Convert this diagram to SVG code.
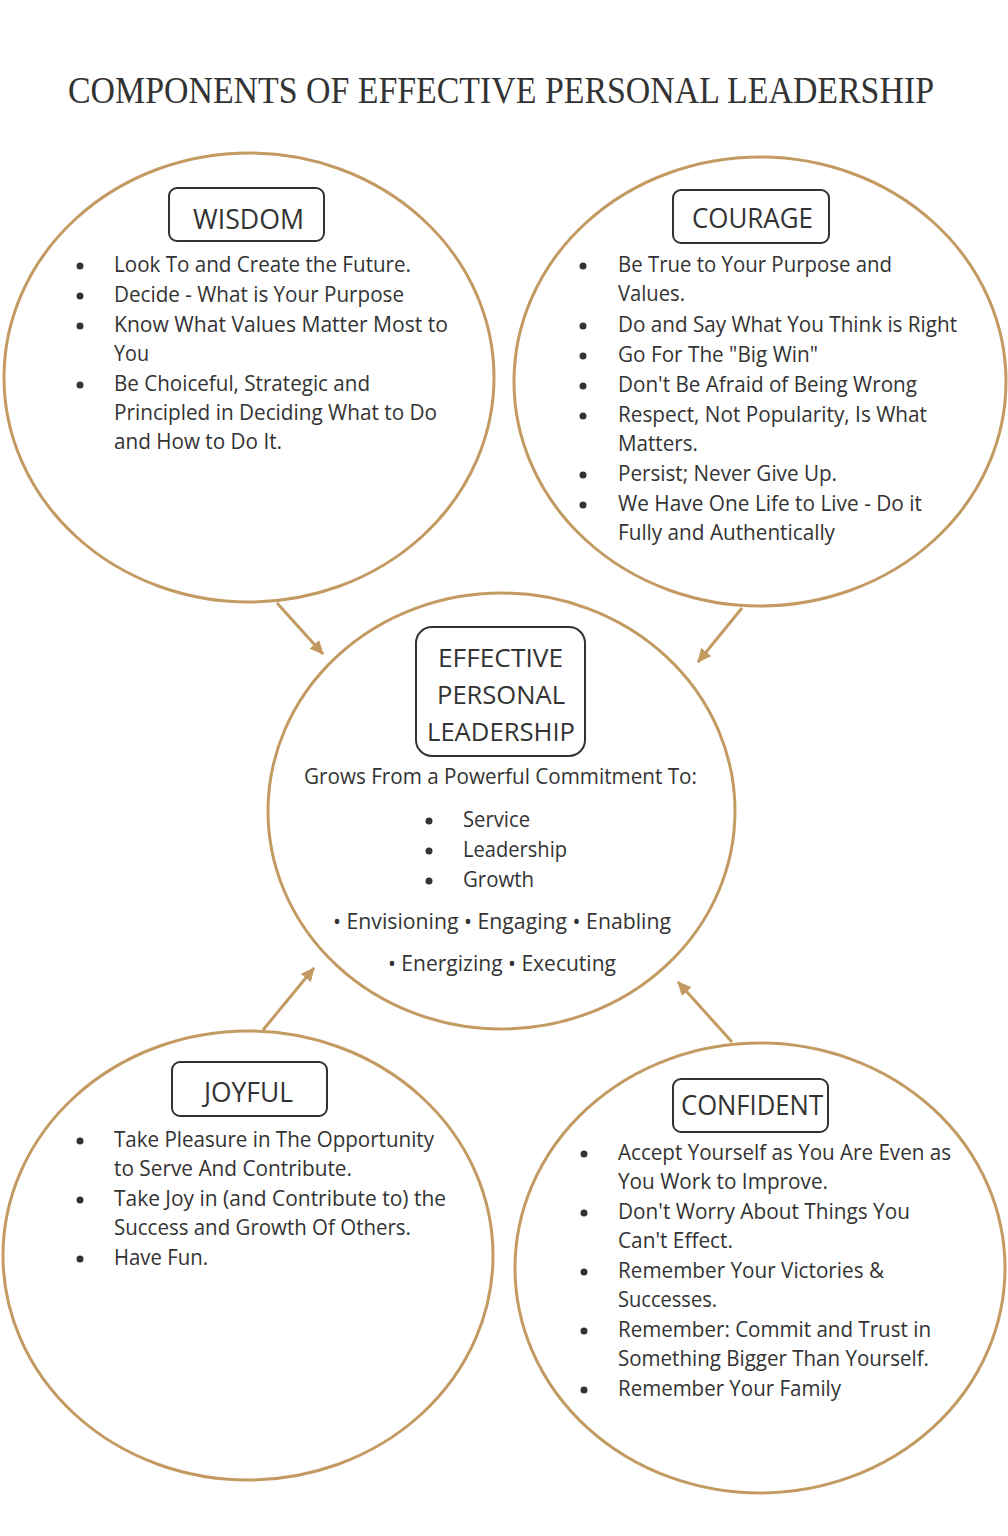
<svg xmlns="http://www.w3.org/2000/svg" width="1008" height="1536" viewBox="0 0 1008 1536">
<defs>
<style>
.bg{fill:#ffffff}
.circ{fill:none;stroke:#C39A62;stroke-width:3}
.box{fill:#ffffff;stroke:#333333;stroke-width:2}
.t{font-family:"Open Sans","Noto Sans","DejaVu Sans",sans-serif;font-size:21px;fill:#333333}
.h{font-family:"Open Sans","Noto Sans","DejaVu Sans",sans-serif;font-size:27px;fill:#333333}
.hc{font-family:"Open Sans","Noto Sans","DejaVu Sans",sans-serif;font-size:25px;fill:#333333}
.title{font-family:"Liberation Serif","Times New Roman",serif;font-size:34px;fill:#333333}
.b{fill:#333333}
.conn{stroke:#C39A62;stroke-width:3;fill:none}
</style>
<marker id="arr" markerUnits="userSpaceOnUse" markerWidth="16" markerHeight="14" refX="13" refY="6.5" orient="auto">
<path d="M0,0 L14,6.5 L0,13 z" fill="#C39A62"/>
</marker>
</defs>
<rect class="bg" x="0" y="0" width="1008" height="1536"/>
<text class="title" x="0" y="0" transform="translate(68,103) scale(1,1.09)" textLength="866" lengthAdjust="spacingAndGlyphs">COMPONENTS OF EFFECTIVE PERSONAL LEADERSHIP</text>

<g id="connectors">
<line class="conn" x1="277" y1="603" x2="323" y2="654" marker-end="url(#arr)"/>
<line class="conn" x1="742" y1="608" x2="698" y2="662" marker-end="url(#arr)"/>
<line class="conn" x1="263" y1="1030" x2="314" y2="968" marker-end="url(#arr)"/>
<line class="conn" x1="732" y1="1042" x2="678" y2="982" marker-end="url(#arr)"/>
</g>

<g id="wisdom">
<ellipse class="circ" cx="249" cy="377.5" rx="245" ry="224.5"/>
<rect class="box" x="169" y="188" width="155" height="53" rx="8"/>
<text class="h" x="193" y="229" textLength="111" lengthAdjust="spacingAndGlyphs">WISDOM</text>
<circle class="b" cx="80" cy="266" r="3.5"/>
<circle class="b" cx="80" cy="296" r="3.5"/>
<circle class="b" cx="80" cy="326" r="3.5"/>
<circle class="b" cx="80" cy="385" r="3.5"/>
<text class="t" x="114" y="272" textLength="297" lengthAdjust="spacingAndGlyphs">Look To and Create the Future.</text>
<text class="t" x="114" y="302" textLength="290" lengthAdjust="spacingAndGlyphs">Decide - What is Your Purpose</text>
<text class="t" x="114" y="332" textLength="334" lengthAdjust="spacingAndGlyphs">Know What Values Matter Most to</text>
<text class="t" x="114" y="361" textLength="35" lengthAdjust="spacingAndGlyphs">You</text>
<text class="t" x="114" y="391" textLength="256" lengthAdjust="spacingAndGlyphs">Be Choiceful, Strategic and</text>
<text class="t" x="114" y="420" textLength="323" lengthAdjust="spacingAndGlyphs">Principled in Deciding What to Do</text>
<text class="t" x="114" y="449" textLength="168" lengthAdjust="spacingAndGlyphs">and How to Do It.</text>
</g>

<g id="courage">
<ellipse class="circ" cx="760" cy="381.5" rx="246" ry="224.5"/>
<rect class="box" x="673" y="190" width="156" height="53" rx="8"/>
<text class="h" x="692" y="228" textLength="121" lengthAdjust="spacingAndGlyphs">COURAGE</text>
<circle class="b" cx="583" cy="266" r="3.5"/>
<circle class="b" cx="583" cy="326" r="3.5"/>
<circle class="b" cx="583" cy="356" r="3.5"/>
<circle class="b" cx="583" cy="386" r="3.5"/>
<circle class="b" cx="583" cy="416" r="3.5"/>
<circle class="b" cx="583" cy="475" r="3.5"/>
<circle class="b" cx="583" cy="505" r="3.5"/>
<text class="t" x="618" y="272" textLength="274" lengthAdjust="spacingAndGlyphs">Be True to Your Purpose and</text>
<text class="t" x="618" y="301" textLength="67" lengthAdjust="spacingAndGlyphs">Values.</text>
<text class="t" x="618" y="332" textLength="339" lengthAdjust="spacingAndGlyphs">Do and Say What You Think is Right</text>
<text class="t" x="618" y="362" textLength="200" lengthAdjust="spacingAndGlyphs">Go For The &quot;Big Win&quot;</text>
<text class="t" x="618" y="392" textLength="299" lengthAdjust="spacingAndGlyphs">Don't Be Afraid of Being Wrong</text>
<text class="t" x="618" y="422" textLength="309" lengthAdjust="spacingAndGlyphs">Respect, Not Popularity, Is What</text>
<text class="t" x="618" y="451" textLength="80" lengthAdjust="spacingAndGlyphs">Matters.</text>
<text class="t" x="618" y="481" textLength="219" lengthAdjust="spacingAndGlyphs">Persist; Never Give Up.</text>
<text class="t" x="618" y="511" textLength="304" lengthAdjust="spacingAndGlyphs">We Have One Life to Live - Do it</text>
<text class="t" x="618" y="540" textLength="217" lengthAdjust="spacingAndGlyphs">Fully and Authentically</text>
</g>

<g id="center">
<ellipse class="circ" cx="501.5" cy="811" rx="233.5" ry="218"/>
<rect class="box" x="416" y="627" width="169" height="129" rx="16"/>
<text class="hc" x="438" y="667" textLength="125" lengthAdjust="spacingAndGlyphs">EFFECTIVE</text>
<text class="hc" x="437" y="704" textLength="128" lengthAdjust="spacingAndGlyphs">PERSONAL</text>
<text class="hc" x="427" y="741" textLength="148" lengthAdjust="spacingAndGlyphs">LEADERSHIP</text>
<text class="t" x="304" y="784" textLength="393" lengthAdjust="spacingAndGlyphs">Grows From a Powerful Commitment To:</text>
<circle class="b" cx="429" cy="821" r="3.5"/>
<circle class="b" cx="429" cy="851" r="3.5"/>
<circle class="b" cx="429" cy="881" r="3.5"/>
<text class="t" x="463" y="827" textLength="67" lengthAdjust="spacingAndGlyphs">Service</text>
<text class="t" x="463" y="857" textLength="104" lengthAdjust="spacingAndGlyphs">Leadership</text>
<text class="t" x="463" y="887" textLength="71" lengthAdjust="spacingAndGlyphs">Growth</text>
<text class="t" x="333" y="929" textLength="338" lengthAdjust="spacingAndGlyphs">• Envisioning • Engaging • Enabling</text>
<text class="t" x="388" y="971" textLength="228" lengthAdjust="spacingAndGlyphs">• Energizing • Executing</text>
</g>

<g id="joyful">
<ellipse class="circ" cx="248" cy="1255.5" rx="245" ry="224.5"/>
<rect class="box" x="172" y="1062" width="155" height="54" rx="8"/>
<text class="h" x="204" y="1102" textLength="89" lengthAdjust="spacingAndGlyphs">JOYFUL</text>
<circle class="b" cx="80" cy="1141" r="3.5"/>
<circle class="b" cx="80" cy="1200" r="3.5"/>
<circle class="b" cx="80" cy="1259" r="3.5"/>
<text class="t" x="114" y="1147" textLength="320" lengthAdjust="spacingAndGlyphs">Take Pleasure in The Opportunity</text>
<text class="t" x="114" y="1176" textLength="238" lengthAdjust="spacingAndGlyphs">to Serve And Contribute.</text>
<text class="t" x="114" y="1206" textLength="332" lengthAdjust="spacingAndGlyphs">Take Joy in (and Contribute to) the</text>
<text class="t" x="114" y="1235" textLength="297" lengthAdjust="spacingAndGlyphs">Success and Growth Of Others.</text>
<text class="t" x="114" y="1265" textLength="94" lengthAdjust="spacingAndGlyphs">Have Fun.</text>
</g>

<g id="confident">
<ellipse class="circ" cx="760" cy="1268" rx="245" ry="225"/>
<rect class="box" x="673" y="1079" width="155" height="53" rx="8"/>
<text class="h" x="681" y="1115" textLength="142" lengthAdjust="spacingAndGlyphs">CONFIDENT</text>
<circle class="b" cx="584" cy="1154" r="3.5"/>
<circle class="b" cx="584" cy="1213" r="3.5"/>
<circle class="b" cx="584" cy="1272" r="3.5"/>
<circle class="b" cx="584" cy="1331" r="3.5"/>
<circle class="b" cx="584" cy="1390" r="3.5"/>
<text class="t" x="618" y="1160" textLength="333" lengthAdjust="spacingAndGlyphs">Accept Yourself as You Are Even as</text>
<text class="t" x="618" y="1189" textLength="210" lengthAdjust="spacingAndGlyphs">You Work to Improve.</text>
<text class="t" x="618" y="1219" textLength="292" lengthAdjust="spacingAndGlyphs">Don't Worry About Things You</text>
<text class="t" x="618" y="1248" textLength="115" lengthAdjust="spacingAndGlyphs">Can't Effect.</text>
<text class="t" x="618" y="1278" textLength="266" lengthAdjust="spacingAndGlyphs">Remember Your Victories &amp;</text>
<text class="t" x="618" y="1307" textLength="99" lengthAdjust="spacingAndGlyphs">Successes.</text>
<text class="t" x="618" y="1337" textLength="313" lengthAdjust="spacingAndGlyphs">Remember: Commit and Trust in</text>
<text class="t" x="618" y="1366" textLength="311" lengthAdjust="spacingAndGlyphs">Something Bigger Than Yourself.</text>
<text class="t" x="618" y="1396" textLength="223" lengthAdjust="spacingAndGlyphs">Remember Your Family</text>
</g>
</svg>
